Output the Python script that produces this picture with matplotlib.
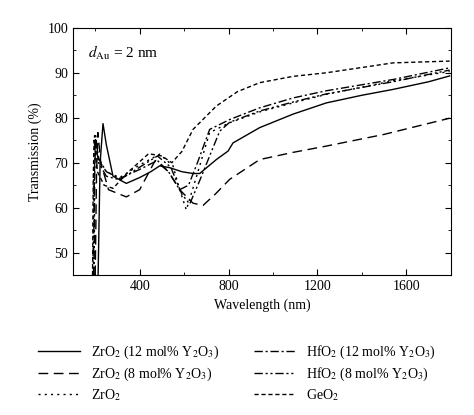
import matplotlib
matplotlib.use("Agg")
import matplotlib.pyplot as plt

plt.rcParams['font.family'] = ['Liberation Serif', 'DejaVu Serif']
plt.rcParams['mathtext.fontset'] = 'stix'

# wavelength (nm) and transmission (%)
zr12_x = [213, 222, 235, 250, 280, 340, 400, 450, 490, 535, 590, 640, 670, 745, 798, 820, 940, 1090, 1240, 1400, 1540, 1700, 1795]
zr12_y = [45, 70, 78.7, 74, 67, 65.4, 66.7, 68, 69.3, 68.9, 68, 67.6, 67.6, 70.7, 72.6, 74.4, 77.8, 80.8, 83.3, 85, 86.3, 88, 89.3]

zr8_x = [200, 206, 212, 225, 260, 340, 400, 470, 530, 580, 640, 685, 740, 805, 940, 1090, 1240, 1500, 1795]
zr8_y = [45, 68, 76.7, 70, 64, 62.4, 64, 70.5, 68, 64, 61, 60.5, 63, 66.3, 70.7, 72.3, 73.7, 76.3, 79.9]

zr_x = [190, 193, 197, 210, 250, 310, 400, 490, 550, 580, 610, 650, 715, 805, 940, 1090, 1240, 1540, 1795]
zr_y = [45, 68, 76, 71, 68, 66.7, 69.5, 71.9, 69.3, 64, 59.5, 66, 76.7, 78.9, 81.3, 83.3, 85.2, 88.2, 90.3]

hf12_x = [195, 198, 202, 215, 250, 310, 400, 480, 530, 580, 620, 660, 715, 805, 940, 1090, 1240, 1540, 1795]
hf12_y = [45, 68, 76, 71, 68, 66.5, 68.5, 70.5, 68, 64, 65, 70, 77.4, 79.6, 82.2, 84.4, 86, 88.5, 91.1]

hf8_x = [192, 196, 200, 215, 250, 310, 400, 480, 540, 590, 625, 670, 760, 805, 940, 1090, 1240, 1540, 1795]
hf8_y = [45, 67, 75, 70, 67, 66.2, 69, 71.5, 69, 63, 60.8, 66, 77, 79, 81.5, 83.5, 85.3, 88, 90.6]

ge_x = [188, 191, 195, 210, 240, 280, 350, 440, 500, 545, 590, 640, 745, 840, 940, 1090, 1240, 1540, 1795]
ge_y = [45, 66, 75, 68, 65, 64.3, 68, 72, 71.5, 70, 72.5, 77.4, 82.6, 85.8, 87.8, 89.2, 90, 92.2, 92.6]

fig = plt.figure(figsize=(4.74, 4.15), dpi=100)
ax = fig.add_axes([0.154, 0.337, 0.797, 0.596])

lw = 1.0
ax.plot(zr12_x, zr12_y, 'k-', lw=lw, label=r'ZrO$_2$ (12 mol% Y$_2$O$_3$)')
ax.plot(zr8_x, zr8_y, 'k', lw=lw, dashes=(7, 4), label=r'ZrO$_2$ (8 mol% Y$_2$O$_3$)')
ax.plot(zr_x, zr_y, 'k', lw=lw, dashes=(1.5, 3), label=r'ZrO$_2$')
ax.plot(hf12_x, hf12_y, 'k', lw=lw, dashes=(6, 2, 1.5, 2), label=r'HfO$_2$ (12 mol% Y$_2$O$_3$)')
ax.plot(hf8_x, hf8_y, 'k', lw=lw, dashes=(6, 2, 1.5, 2, 1.5, 2), label=r'HfO$_2$ (8 mol% Y$_2$O$_3$)')
ax.plot(ge_x, ge_y, 'k', lw=lw, dashes=(3, 2), label=r'GeO$_2$')

ax.set_xlim(100, 1800)
ax.set_ylim(45, 100)
ax.set_xticks([400, 800, 1200, 1600])
ax.set_xticks(range(200, 1800, 200), minor=True)
ax.set_yticks([50, 60, 70, 80, 90, 100])
ax.set_yticks(range(45, 100, 5), minor=True)
ax.tick_params(which='both', direction='in', top=True, right=True, labelsize=10)
ax.tick_params(which='major', length=4)
ax.tick_params(which='minor', length=2)
ax.set_xlabel('Wavelength (nm)', fontsize=10)
ax.set_ylabel('Transmission (%)', fontsize=10)
ax.text(0.04, 0.88, r'$d_{\mathrm{Au}}$ = 2 nm', transform=ax.transAxes, fontsize=11)

fig.legend(loc='lower center', bbox_to_anchor=(0.5, 0.0), ncol=2, frameon=False,
           fontsize=10, handlelength=3, columnspacing=2.5, labelspacing=0.3)

fig.savefig('out.png', dpi=100)
